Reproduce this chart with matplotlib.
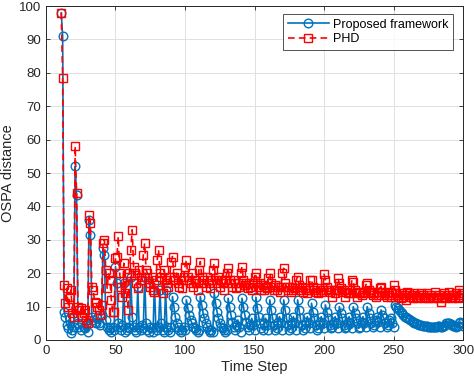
import numpy as np
import matplotlib
matplotlib.use("Agg")
import matplotlib.pyplot as plt

plt.rcParams['font.family'] = ['Liberation Sans', 'DejaVu Sans']

# Time steps
start_step = 11
end_step = 300

# Proposed framework (blue), per 10-step period starting at t=11
proposed = [
    98, 91, 8.5, 7.0, 4.5, 3.5, 6.5, 2.0, 3.0, 4.0,
    52, 43.5, 5.0, 4.0, 3.0, 5.0, 4.0, 3.5, 4.5, 2.5,
    36, 31.5, 7.0, 6.0, 5.5, 5.0, 6.5, 5.0, 4.5, 7.5,
    27.5, 25.5, 6.0, 4.0, 3.0, 3.5, 2.5, 4.0, 3.0, 22.0,
    17, 5.0, 4.0, 3.0, 4.5, 17.0, 2.5, 3.0, 4.0, 3.5,
    19, 7.0, 4.0, 3.0, 2.5, 16.0, 4.0, 3.0, 4.5, 3.5,
    19, 5.0, 3.0, 2.5, 4.0, 3.5, 2.5, 17.0, 4.0, 3.0,
    4.0, 15.0, 5.0, 3.0, 2.5, 15.0, 4.0, 3.0, 2.5, 4.0,
    13, 10, 7, 5, 4, 3, 2.5, 3, 4, 3,
    12, 9.5, 7.5, 6, 5, 4, 3.5, 3, 2.5, 3,
    13, 10.5, 8, 6.5, 5, 4, 3, 2.5, 3, 2.5,
    14, 11, 8.5, 6.5, 5, 4, 3.5, 3, 2.5, 3,
    12.5, 10, 7.5, 5.5, 4, 3, 4.5, 6, 4, 2.5,
    12.5, 10, 7.5, 5.5, 4, 3, 4.5, 6.5, 4.5, 3,
    12.8, 9.5, 7, 5, 3.5, 3, 5, 6.5, 4.5, 3,
    12, 9, 6.5, 4.5, 3, 3.5, 5.5, 7, 5, 3,
    12, 9, 6.5, 4.5, 3, 3.5, 5.5, 7, 5, 3,
    12, 9, 6.5, 4.5, 3, 3.5, 5.5, 7, 5, 3.5,
    11, 8.5, 6.5, 4.5, 3, 3.5, 5.5, 7, 5, 3.5,
    10.5, 8.5, 6.5, 4.5, 3.5, 4, 5.5, 7, 5, 3.5,
    10, 8, 6.5, 4.5, 3.5, 4, 5.5, 7, 5, 3.5,
    10, 8, 6.5, 5, 3.5, 4, 5.5, 7, 5, 4,
    10, 8, 6.5, 5, 4, 4.5, 6, 7, 5.5, 4,
    9, 7.5, 6.5, 5, 4, 4.5, 6, 6.5, 5, 4,
    10.5, 10, 9.5, 9, 8.5, 8, 7.5, 7, 6.8, 6.5,
    6.2, 6, 5.7, 5.5, 5.2, 5, 4.8, 4.6, 4.5, 4.4,
    4.3, 4.2, 4.2, 4.1, 4.0, 4.0, 4.0, 3.9, 3.9, 4.0,
    4.0, 4.1, 4.2, 4.0, 3.9, 4.1, 4.5, 5.0, 5.2, 5.0,
    4.8, 4.5, 4.3, 4.2, 4.0, 4.2, 5.0, 5.4, 5.0, 4.3,
]

# PHD (red), per 10-step period starting at t=11
phd = [
    98, 78.5, 16.5, 11, 15.5, 10, 13, 15, 8, 7,
    58, 44, 10, 9, 9.5, 7, 8, 9, 6, 5,
    37.5, 35, 16, 15, 11.5, 11, 10, 9, 7.5, 10.5,
    29, 30, 21, 15.5, 20, 18, 12, 8.5, 8.5, 24.5,
    25, 31, 20, 16, 13, 23, 14, 19, 9, 20,
    27, 33, 22, 20, 17, 15.5, 21, 19, 18, 25.5,
    29, 21, 20, 17, 16, 19, 15, 14.5, 18, 24,
    27, 20, 19, 14, 21, 18, 17, 16, 19, 23.5,
    25, 19, 18, 20, 17, 16, 18, 15.5, 19, 22,
    24, 19, 18, 17, 20, 16, 18, 17, 15, 21,
    23.5, 19, 17, 18, 16, 19, 17, 15.5, 18, 21,
    23, 18, 17, 19, 16, 18, 17, 15, 18, 20,
    21.5, 18, 17, 16, 18, 17, 15.5, 17, 16, 20,
    22, 18, 16.5, 17, 15.5, 17, 16, 15, 17, 19,
    20, 17, 16, 17, 15, 16.5, 15, 16, 15.5, 18.5,
    20, 17, 16, 15, 16.5, 15, 16, 14.5, 16, 20,
    21.5, 17, 16, 15, 16, 14.5, 16, 15, 15.5, 18,
    19, 16.5, 15, 16, 14.5, 15.5, 15, 14, 15, 18,
    18, 16, 15, 14.5, 15.5, 14, 15, 14.5, 15, 19.7,
    18, 16, 15, 14.5, 15, 13, 15, 14, 15, 18.5,
    17, 15.5, 14.5, 15, 13, 14.5, 14, 15, 14, 18,
    17.5, 15, 14, 13, 14.5, 14, 13.5, 14.5, 14, 16.5,
    17, 15, 14, 14.5, 13.5, 14, 13, 14.5, 13.5, 15.5,
    16, 14.5, 13.5, 14, 13, 14.5, 13.5, 13, 14, 16.4,
    15, 14, 13, 13.5, 12.5, 14, 13, 13.5, 12, 14.5,
    14, 13, 13.5, 12.5, 14, 13, 12.5, 13.5, 13, 14,
    13.5, 12.5, 13, 14, 12.5, 13, 13.5, 12.5, 13, 14.5,
    13, 12.5, 13.5, 11.5, 13, 14, 12.5, 13, 13.5, 14.5,
    13, 12.5, 13.5, 13, 14, 12.5, 15, 13.5, 14, 13,
]

steps = np.arange(start_step, end_step + 1)

fig = plt.figure(figsize=(4.74, 3.82), dpi=100)
ax = fig.add_axes([0.097, 0.110, 0.880, 0.874])

blue = (0, 0.447, 0.741)
ax.plot(steps, proposed, '-o', color=blue, lw=1.2, markersize=6.2,
        markerfacecolor='none', markeredgewidth=1.0, label='Proposed framework')
ax.plot(steps, phd, '--s', color='#ff0000', lw=1.2, markersize=5.6,
        markerfacecolor='none', markeredgewidth=1.0, label='PHD', dashes=(4, 2.5))

ax.set_xlim(0, 300)
ax.set_ylim(0, 100)
ax.set_xticks([0, 50, 100, 150, 200, 250, 300])
ax.set_yticks(np.arange(0, 101, 10))
ax.grid(True, color='#e0e0e0', lw=0.7)
ax.set_axisbelow(True)
ax.tick_params(direction='in', top=True, right=True, labelsize=9.5,
               colors='#262626', length=3, width=0.6)
for sp in ax.spines.values():
    sp.set_color('#262626')
    sp.set_linewidth(0.7)

ax.set_xlabel('Time Step', fontsize=10.5, color='#262626', labelpad=2)
ax.set_ylabel('OSPA distance', fontsize=10.5, color='#262626', labelpad=3)

leg = ax.legend(loc='upper right', bbox_to_anchor=(0.975, 0.975), fontsize=9,
                handlelength=3.3, frameon=True, fancybox=False,
                borderpad=0.35, labelspacing=0.2, handletextpad=0.3,
                borderaxespad=0)
leg.get_frame().set_edgecolor('#262626')
leg.get_frame().set_linewidth(0.7)

fig.savefig('out.png', dpi=100)
